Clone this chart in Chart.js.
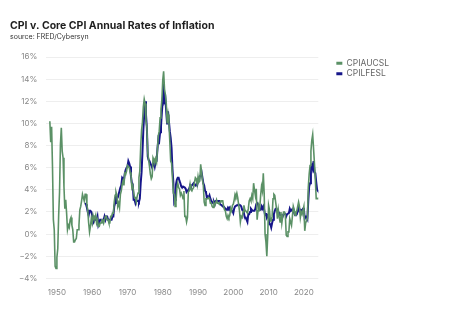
<!DOCTYPE html>
<html lang="en">

<head>
    <meta charset="UTF-8">
    <title>CPI v. Core CPI Annual Rates of Inflation</title>
    <script src="https://cdn.jsdelivr.net/npm/chart.js"></script>
    <style>
        body {
            margin: 0;
            background: #fff;
            font-family: Inter, Arial, sans-serif;
        }

        #wrap {
            width: 474px;
            height: 323px;
        }
    </style>
</head>

<body>

    <div id="wrap"><canvas id="inflationChart"></canvas></div>

    <script type='text/javascript'>
        // quarterly year-over-year % change, first value is Q1 of the start year
        var cpiStart = 1948;
        var cpiValues = [
            10.2, 8.3, 9.7, 6.1,   // 1948
            1.3, 0.4, -2.9, -3.1,  // 1949
            -2.1, -1.3, 1.7, 3.8,  // 1950
            8.1, 9.6, 7.5, 6.9,    // 1951
            4.3, 2.3, 3.1, 1.9,    // 1952
            0.4, 0.8, 0.6, 1.3,    // 1953
            1.5, 0.8, 0.4, -0.7,   // 1954
            -0.7, -0.5, -0.4, 0.4, // 1955
            0.4, 0.8, 2.2, 2.5,    // 1956
            3.0, 3.6, 3.3, 3.0,    // 1957
            3.6, 3.6, 2.7, 2.1,    // 1958
            1.0, 0.2, 0.7, 1.4,    // 1959
            1.0, 1.7, 1.4, 1.4,    // 1960
            1.7, 1.0, 1.3, 0.7,    // 1961
            0.7, 1.0, 1.0, 1.3,    // 1962
            1.3, 1.0, 1.3, 1.6,    // 1963
            1.6, 1.3, 1.3, 1.0,    // 1964
            1.0, 1.6, 1.6, 1.9,    // 1965
            1.9, 2.9, 3.5, 3.8,    // 1966
            3.5, 2.5, 2.8, 2.4,    // 1967
            3.6, 3.9, 4.5, 4.8,    // 1968
            4.4, 5.5, 5.4, 5.7,    // 1969
            6.2, 6.1, 6.0, 5.6,    // 1970
            5.3, 4.2, 4.4, 3.8,    // 1971
            3.3, 3.3, 2.9, 3.4,    // 1972
            3.7, 5.1, 5.7, 7.9,    // 1973
            9.4, 10.1, 11.5, 12.2, // 1974
            11.8, 10.2, 9.7, 7.4,  // 1975
            6.7, 6.1, 5.4, 5.0,    // 1976
            5.2, 6.9, 6.7, 6.4,    // 1977
            6.8, 6.5, 7.7, 8.9,    // 1978
            9.3, 10.5, 11.3, 12.1, // 1979
            13.9, 14.7, 13.1, 12.6, // 1980
            11.8, 10.0, 10.8, 10.1, // 1981
            8.4, 6.6, 6.4, 5.1,    // 1982
            3.7, 3.6, 2.5, 2.9,    // 1983
            4.2, 4.6, 4.2, 4.1,    // 1984
            3.5, 3.7, 3.5, 3.2,    // 1985
            3.9, 1.6, 1.6, 1.1,    // 1986
            1.5, 3.8, 3.9, 4.5,    // 1987
            4.0, 3.9, 4.1, 4.2,    // 1988
            4.7, 5.1, 5.0, 4.5,    // 1989
            5.2, 4.7, 4.8, 6.3,    // 1990
            5.6, 4.9, 4.4, 2.9,    // 1991
            2.6, 3.2, 3.2, 3.2,    // 1992
            3.3, 3.2, 2.8, 2.8,    // 1993
            2.5, 2.4, 2.8, 2.6,    // 1994
            2.8, 3.1, 2.8, 2.8,    // 1995
            2.7, 2.9, 3.0, 3.0,    // 1996
            3.0, 2.5, 2.2, 2.1,    // 1997
            1.6, 1.4, 1.7, 1.5,    // 1998
            1.7, 2.3, 2.1, 2.6,    // 1999
            2.7, 3.1, 3.6, 3.4,    // 2000
            3.7, 3.3, 2.7, 2.1,    // 2001
            1.1, 1.6, 1.5, 2.0,    // 2002
            2.6, 2.2, 2.1, 2.0,    // 2003
            1.9, 2.3, 3.0, 3.2,    // 2004
            3.0, 3.5, 3.2, 4.6,    // 2005
            4.0, 3.5, 4.1, 1.3,    // 2006
            2.1, 2.6, 2.4, 3.5,    // 2007
            4.3, 3.9, 5.5, 3.7,    // 2008
            0.0, -0.7, -2.0, -0.2, // 2009
            2.6, 2.2, 1.2, 1.2,    // 2010
            1.6, 3.2, 3.6, 3.5,    // 2011
            2.9, 2.3, 1.4, 2.2,    // 2012
            1.6, 1.1, 2.0, 1.0,    // 2013
            1.6, 2.0, 2.0, 1.7,    // 2014
            -0.1, -0.2, 0.2, 0.2,  // 2015
            1.4, 1.1, 0.8, 1.6,    // 2016
            2.5, 2.2, 1.7, 2.0,    // 2017
            2.1, 2.5, 2.9, 2.5,    // 2018
            1.5, 2.0, 1.8, 1.8,    // 2019
            2.5, 0.3, 1.0, 1.2,    // 2020
            1.4, 4.2, 5.4, 6.2,    // 2021
            7.5, 8.5, 9.0, 7.7,    // 2022
            6.4, 4.9, 3.2, 3.2,    // 2023
            3.3                    // 2024
        ];

        var coreStart = 1958;
        var coreValues = [
            2.8, 2.7, 2.4, 2.0,    // 1958
            1.7, 2.1, 2.1, 2.0,    // 1959
            1.7, 1.0, 1.0, 1.3,    // 1960
            1.3, 1.3, 1.6, 0.8,    // 1961
            1.0, 1.3, 1.3, 1.3,    // 1962
            1.3, 1.3, 1.6, 1.3,    // 1963
            1.6, 1.6, 1.3, 1.3,    // 1964
            1.3, 1.3, 1.3, 1.6,    // 1965
            1.6, 2.5, 2.8, 3.4,    // 1966
            3.3, 3.3, 3.6, 3.9,    // 1967
            4.2, 4.4, 5.1, 5.0,    // 1968
            4.9, 5.5, 5.8, 6.0,    // 1969
            6.1, 6.6, 6.4, 6.1,    // 1970
            5.2, 4.6, 4.5, 3.1,    // 1971
            3.1, 2.8, 3.1, 3.0,    // 1972
            3.0, 2.9, 3.2, 4.6,    // 1973
            5.6, 7.4, 9.4, 10.8,   // 1974
            12.0, 10.8, 9.6, 7.0,  // 1975
            6.7, 6.6, 6.4, 6.2,    // 1976
            6.0, 6.3, 6.5, 6.1,    // 1977
            6.5, 6.6, 7.7, 8.6,    // 1978
            8.4, 9.2, 9.7, 11.0,   // 1979
            12.0, 13.6, 12.0, 12.2, // 1980
            11.0, 9.9, 11.1, 11.1, // 1981
            9.3, 8.7, 7.8, 5.9,    // 1982
            4.7, 2.9, 3.1, 4.5,    // 1983
            4.9, 5.1, 5.1, 4.8,    // 1984
            4.6, 4.3, 4.2, 4.3,    // 1985
            4.3, 4.2, 4.1, 3.8,    // 1986
            3.9, 4.0, 4.1, 4.4,    // 1987
            4.3, 4.4, 4.5, 4.6,    // 1988
            4.5, 4.4, 4.5, 4.4,    // 1989
            4.8, 4.9, 5.2, 5.3,    // 1990
            5.6, 5.1, 4.6, 4.4,    // 1991
            3.9, 3.8, 3.3, 3.4,    // 1992
            3.3, 3.5, 3.2, 3.0,    // 1993
            2.9, 2.8, 2.9, 2.7,    // 1994
            3.0, 3.0, 3.0, 3.0,    // 1995
            3.0, 2.7, 2.7, 2.6,    // 1996
            2.5, 2.5, 2.4, 2.3,    // 1997
            2.2, 2.2, 2.4, 2.3,    // 1998
            2.4, 2.1, 2.1, 2.1,    // 1999
            1.9, 2.3, 2.5, 2.5,    // 2000
            2.6, 2.6, 2.7, 2.6,    // 2001
            2.6, 2.5, 2.2, 2.2,    // 2002
            1.9, 1.5, 1.5, 1.3,    // 2003
            1.1, 1.8, 1.8, 2.0,    // 2004
            2.3, 2.2, 2.1, 2.1,    // 2005
            2.1, 2.3, 2.7, 2.8,    // 2006
            2.7, 2.3, 2.2, 2.2,    // 2007
            2.5, 2.3, 2.5, 2.2,    // 2008
            1.7, 1.9, 1.5, 1.7,    // 2009
            1.6, 0.9, 0.9, 0.6,    // 2010
            1.0, 1.3, 1.8, 2.1,    // 2011
            2.3, 2.3, 2.1, 2.0,    // 2012
            1.9, 1.7, 1.7, 1.7,    // 2013
            1.6, 1.8, 1.9, 1.8,    // 2014
            1.6, 1.8, 1.8, 1.9,    // 2015
            2.3, 2.1, 2.2, 2.1,    // 2016
            2.3, 1.9, 1.7, 1.8,    // 2017
            1.8, 2.1, 2.4, 2.1,    // 2018
            2.2, 2.1, 2.2, 2.3,    // 2019
            2.3, 1.4, 1.6, 1.6,    // 2020
            1.4, 3.0, 4.3, 4.6,    // 2021
            6.0, 6.2, 5.9, 6.6,    // 2022
            5.6, 5.5, 4.7, 4.0,    // 2023
            3.9                    // 2024
        ];

        var yearTicks = [1950, 1960, 1970, 1980, 1990, 2000, 2010, 2020];
        var seriesNames = ['CPIAUCSL', 'CPILFESL'];

        // turn a quarterly list into {x: year, y: value} points
        function toPoints(start, values) {
            var pts = [];
            for (var i = 0; i < values.length; i++) {
                pts.push({ x: start + i * 0.25, y: values[i] });
            }
            return pts;
        }

        var tickFont = { family: 'Inter', size: 8 };

        var ctx = document.getElementById('inflationChart').getContext('2d');

        new Chart(ctx, {
            type: 'line',
            data: {
                datasets: [{
                    label: seriesNames[0],
                    data: toPoints(cpiStart, cpiValues),
                    borderColor: '#5b9166',
                    backgroundColor: '#5b9166',
                    borderWidth: 1.6,
                    pointRadius: 0,
                    tension: 0
                }, {
                    label: seriesNames[1],
                    data: toPoints(coreStart, coreValues),
                    borderColor: '#16168a',
                    backgroundColor: '#16168a',
                    borderWidth: 2,
                    pointRadius: 0,
                    tension: 0
                }]
            },
            options: {
                responsive: true,
                maintainAspectRatio: false,
                animation: false,
                layout: { padding: { left: 10, right: 75, top: 4, bottom: 17 } },
                plugins: {
                    title: {
                        display: true,
                        text: 'CPI v. Core CPI Annual Rates of Inflation',
                        align: 'start',
                        color: '#1f1f1f',
                        font: { family: 'Inter', size: 10.5, weight: 'bold' },
                        padding: { top: 16, bottom: 0 }
                    },
                    subtitle: {
                        display: true,
                        text: 'source: FRED/Cybersyn',
                        align: 'start',
                        color: '#333',
                        font: { family: 'Inter', size: 7 },
                        padding: { bottom: 16 }
                    },
                    legend: {
                        position: 'right',
                        align: 'start',
                        fullSize: false,
                        labels: {
                            boxWidth: 6,
                            boxHeight: 3,
                            padding: 2,
                            color: '#666',
                            font: { family: 'Inter', size: 8.5 },
                            // flat dash markers without an outline
                            generateLabels: function (chart) {
                                var items = Chart.defaults.plugins.legend.labels.generateLabels(chart);
                                items.forEach(function (item) { item.lineWidth = 0; });
                                return items;
                            }
                        }
                    },
                    tooltip: { enabled: false }
                },
                scales: {
                    x: {
                        type: 'linear',
                        min: 1947,
                        max: 2024.1,
                        afterBuildTicks: function (axis) {
                            axis.ticks = yearTicks.map(function (v) { return { value: v }; });
                        },
                        grid: { display: false, drawTicks: false },
                        border: { display: false },
                        ticks: {
                            color: '#888',
                            font: tickFont,
                            padding: 9,
                            maxRotation: 0,
                            callback: function (v) { return String(v); }
                        }
                    },
                    y: {
                        min: -4,
                        max: 16,
                        grid: { color: '#eeeeee', drawTicks: false },
                        border: { display: false },
                        ticks: {
                            stepSize: 2,
                            color: '#888',
                            font: tickFont,
                            padding: 9,
                            callback: function (v) {
                                return (v < 0 ? '\u2212' + Math.abs(v) : v) + '%';
                            }
                        }
                    },
                    // empty strip between the plot and the legend
                    gap: {
                        type: 'linear',
                        position: 'right',
                        display: true,
                        grid: { display: false, drawTicks: false },
                        border: { display: false },
                        ticks: { display: false },
                        afterFit: function (scale) { scale.width = 16; }
                    }
                }
            }
        });
    </script>

</body>

</html>
